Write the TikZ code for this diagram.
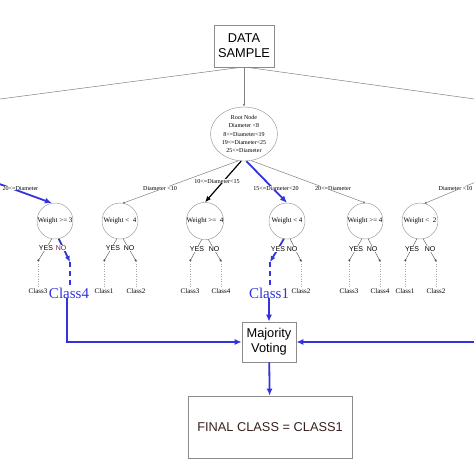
\documentclass[tikz,border=0pt]{standalone}
\usepackage{fontspec}
\setmainfont{Liberation Serif}
\setsansfont{Liberation Sans}
\usetikzlibrary{shapes.geometric}
\usetikzlibrary{positioning}
\usetikzlibrary{arrows.meta}
\definecolor{voteblue}{rgb}{0.2,0.2,0.86}
\definecolor{boxgray}{rgb}{0.55,0.55,0.55}
\definecolor{nored}{rgb}{0.45,0.1,0.25}
\definecolor{finaltext}{rgb}{0.22,0.12,0.12}
\tikzset{
big_box/.style={rectangle, draw=boxgray, line width=0.6pt, font=\sffamily\fontsize{12.8}{15}\selectfont, align=center, inner sep=0pt},
root_node/.style={ellipse, draw=boxgray, minimum width=67pt, minimum height=54pt, inner sep=0pt, align=center, font=\fontsize{6}{8.25}\selectfont},
weight_node/.style={circle, draw=boxgray, minimum size=36pt, inner sep=0pt, font=\fontsize{7}{8}\selectfont},
edge_label/.style={fill=white, inner sep=0.4pt, font=\fontsize{6.1}{7}\selectfont},
answer/.style={fill=white, inner sep=0.6pt, font=\sffamily\fontsize{7}{8}\selectfont},
class_label/.style={inner sep=1pt, font=\fontsize{7}{8}\selectfont},
big_class/.style={inner sep=0pt, text=voteblue, font=\fontsize{15}{16}\selectfont},
gray_link/.style={draw=gray, line width=0.5pt, -{Circle[length=2.2pt]}},
leaf_link/.style={draw=black!70, line width=0.4pt, -{Square[length=1.6pt]}},
dotted_link/.style={draw=gray!70, dotted, line width=0.5pt},
blue_link/.style={draw=voteblue, line width=1.8pt, -{Latex[length=7pt,width=6pt]}},
blue_dash/.style={draw=voteblue, line width=2pt, dash pattern=on 5pt off 4pt}
}

\begin{document}
\begin{tikzpicture}[x=1pt, y=-1pt]
    \useasboundingbox (0,0) rectangle (474,474);
    % top of the tree
    \node[big_box, minimum width=60pt, minimum height=42pt] (data_sample) at (244,46) {DATA\\SAMPLE};
    \node[root_node] (root) at (244,134) {Root Node\\Diameter <8\\8<=Diameter<19\\19<=Diameter<25\\25<=Diameter};
    \coordinate (far_left) at (-12,100.6);
    \coordinate (far_right) at (486,100.6);
    \draw[draw=gray, line width=0.5pt] ([xshift=-3pt]data_sample.south) -- (far_left);
    \draw[draw=gray, line width=0.5pt] ([xshift=3pt]data_sample.south) -- (far_right);
    \draw[draw=gray, line width=0.5pt, -{Latex[length=3pt,width=2.5pt]}] (data_sample) -- (root);

    % weight tests
    \node[weight_node] (weight_1) at (55,221) {Weight >= 3};
    \node[weight_node] (weight_2) at (120,221) {Weight < ~4};
    \node[weight_node] (weight_3) at (205,221) {Weight >= ~4};
    \node[weight_node] (weight_4) at (287,221) {Weight < 4};
    \node[weight_node] (weight_5) at (365,221) {Weight >= 4};
    \node[weight_node] (weight_6) at (420,221) {Weight < ~2};

    \coordinate (left_in) at (-6,182);
    \coordinate (right_in) at (490,176);
    \draw[blue_link] (left_in) -- (weight_1.100);
    \draw[gray_link] (root.-102) -- (weight_2.80);
    \draw[black, line width=1.2pt, -{Latex[length=6pt,width=5pt]}] (root.-96) -- (weight_3.north);
    \draw[blue_link] (root.-85) -- (weight_4.north);
    \draw[gray_link] (root.-75) -- (weight_5.north);
    \draw[gray_link] (right_in) -- (weight_6.75);

    \node[edge_label, anchor=west] (range_1) at (2,188) {20<=Diameter};
    \node[edge_label] (range_2) at (160,188) {Diameter <10};
    \node[edge_label] (range_3) at (217,181) {10<=Diameter<15};
    \node[edge_label] (range_4) at (276,188) {15<=Diameter<20};
    \node[edge_label] (range_5) at (333,188) {20<=Diameter};
    \node[edge_label, anchor=east] (range_6) at (473,188) {Diameter <10};

    % leaves
    \coordinate (yes_dot_1) at (38,261);   \coordinate (no_dot_1) at (70,262);
    \coordinate (yes_dot_2) at (104,261);  \coordinate (no_dot_2) at (136,261);
    \coordinate (yes_dot_3) at (190,261);  \coordinate (no_dot_3) at (221,261);
    \coordinate (yes_dot_4) at (270,262);  \coordinate (no_dot_4) at (301,261);
    \coordinate (yes_dot_5) at (349,261);  \coordinate (no_dot_5) at (380,261);
    \coordinate (yes_dot_6) at (405,261);  \coordinate (no_dot_6) at (436,261);

    \draw[leaf_link] (weight_1.-100) -- (yes_dot_1);
    \draw[blue_link, -{Latex[length=6pt,width=5pt]}] (weight_1.-78) -- (no_dot_1);
    \draw[leaf_link] (weight_2.-100) -- (yes_dot_2);
    \draw[leaf_link] (weight_2.-80) -- (no_dot_2);
    \draw[leaf_link] (weight_3.-100) -- (yes_dot_3);
    \draw[leaf_link] (weight_3.-80) -- (no_dot_3);
    \draw[blue_link, -{Latex[length=6pt,width=5pt]}] (weight_4.-100) -- (yes_dot_4);
    \draw[leaf_link] (weight_4.-80) -- (no_dot_4);
    \draw[leaf_link] (weight_5.-100) -- (yes_dot_5);
    \draw[leaf_link] (weight_5.-80) -- (no_dot_5);
    \draw[leaf_link] (weight_6.-100) -- (yes_dot_6);
    \draw[leaf_link] (weight_6.-80) -- (no_dot_6);

    \node[answer] (yes_1) at (46,248) {YES};  \node[answer, text=nored] (no_1) at (61,248) {NO};
    \node[answer] (yes_2) at (113,248) {YES}; \node[answer] (no_2) at (129,248) {NO};
    \node[answer] (yes_3) at (197,249) {YES}; \node[answer] (no_3) at (214,249) {NO};
    \node[answer] (yes_4) at (278,249) {YES}; \node[answer] (no_4) at (292,249) {NO};
    \node[answer] (yes_5) at (356,249) {YES}; \node[answer] (no_5) at (372,249) {NO};
    \node[answer] (yes_6) at (412,249) {YES}; \node[answer] (no_6) at (430,249) {NO};

    \node[class_label] (class_1a) [below=26pt of yes_dot_1] {Class3};
    \node[big_class] (big_class_1) at (69,293) {Class4};
    \node[class_label] (class_2a) [below=26pt of yes_dot_2] {Class1};
    \node[class_label] (class_2b) [below=26pt of no_dot_2] {Class2};
    \node[class_label] (class_3a) [below=26pt of yes_dot_3] {Class3};
    \node[class_label] (class_3b) [below=26pt of no_dot_3] {Class4};
    \node[big_class] (big_class_2) at (269,293) {Class1};
    \node[class_label] (class_4b) [below=26pt of no_dot_4] {Class2};
    \node[class_label] (class_5a) [below=26pt of yes_dot_5] {Class3};
    \node[class_label] (class_5b) [below=26pt of no_dot_5] {Class4};
    \node[class_label] (class_6a) [below=26pt of yes_dot_6] {Class1};
    \node[class_label] (class_6b) [below=26pt of no_dot_6] {Class2};

    \draw[dotted_link] (yes_dot_1) -- (class_1a);
    \draw[blue_dash] (no_dot_1) -- (big_class_1.north -| no_dot_1);
    \draw[dotted_link] (yes_dot_2) -- (class_2a);
    \draw[dotted_link] (no_dot_2) -- (class_2b);
    \draw[dotted_link] (yes_dot_3) -- (class_3a);
    \draw[dotted_link] (no_dot_3) -- (class_3b);
    \draw[blue_dash] (yes_dot_4) -- (big_class_2.north -| yes_dot_4);
    \draw[dotted_link] (no_dot_4) -- (class_4b);
    \draw[dotted_link] (yes_dot_5) -- (class_5a);
    \draw[dotted_link] (no_dot_5) -- (class_5b);
    \draw[dotted_link] (yes_dot_6) -- (class_6a);
    \draw[dotted_link] (no_dot_6) -- (class_6b);

    % voting
    \node[big_box, minimum width=54pt, minimum height=40pt] (majority) at (269,342) {Majority\\Voting};
    \node[big_box, minimum width=164pt, minimum height=62pt, text=finaltext] (final_class) at (270,427) {FINAL CLASS = CLASS1};
    \coordinate (right_vote) at (480,342);
    \draw[blue_link] ([xshift=-2pt]big_class_1.south) |- (majority.west);
    \draw[blue_link] (big_class_2.south) -- (majority.north);
    \draw[blue_link] (right_vote) -- (majority.east);
    \draw[blue_link] (majority) -- (final_class);
\end{tikzpicture}
\end{document}
